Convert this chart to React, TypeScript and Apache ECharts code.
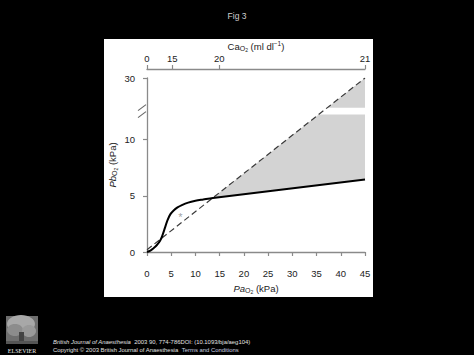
import React, { useEffect, useRef } from "react";
import * as echarts from "echarts";

// ---- data (display units of the broken y axis) ----
const paO2Solid = [0, 0.7, 1.3, 2.0, 2.7, 3.2, 3.7, 4.2, 4.8, 5.5, 6.3, 7.2, 8.5, 10, 11.6, 13.6, 45];
const pbO2Solid = [0, 0.12, 0.32, 0.6, 1.0, 1.5, 2.15, 2.8, 3.35, 3.7, 3.97, 4.18, 4.4, 4.56, 4.68, 4.82, 6.45];
const paO2Dashed = [0, 45];
const pbO2Dashed = [0.2, 15.5];
const crossPaO2 = 13.6;
const breakBand = [12.25, 12.85];
const asteriskPoint = [6.9, 3.1];

const xTickLabels = ["0", "5", "10", "15", "20", "25", "30", "35", "40", "45"];
const yTickValues = [0, 5, 10, 15.5];
const yTickLabels = ["0", "5", "10", "30"];
const caTickValues = [0, 5.2, 14.9, 45];
const caTickLabels = ["0", "15", "20", "21"];

const FONT = "Liberation Sans, Arial, Helvetica, sans-serif";
const AXIS_GREY = "#8a8a8a";
const TEXT = "#222";

function dashedAt(x: number) {
  const s = (pbO2Dashed[1] - pbO2Dashed[0]) / (paO2Dashed[1] - paO2Dashed[0]);
  return pbO2Dashed[0] + s * (x - paO2Dashed[0]);
}
function dashedX(y: number) {
  const s = (pbO2Dashed[1] - pbO2Dashed[0]) / (paO2Dashed[1] - paO2Dashed[0]);
  return paO2Dashed[0] + (y - pbO2Dashed[0]) / s;
}

const nameRich = {
  i: { fontSize: 9.5, fontStyle: "italic", fontFamily: FONT, color: TEXT, lineHeight: 12, verticalAlign: "middle" },
  n: { fontSize: 9.5, fontFamily: FONT, color: TEXT, lineHeight: 12, verticalAlign: "middle" },
  s: { fontSize: 7, fontFamily: FONT, color: TEXT, lineHeight: 7, verticalAlign: "bottom" },
  ss: { fontSize: 5, fontFamily: FONT, color: TEXT, lineHeight: 4, verticalAlign: "bottom" },
  sup: { fontSize: 6.5, fontFamily: FONT, color: TEXT, lineHeight: 7, verticalAlign: "top" },
};

export default function App() {
  const ref = useRef<HTMLDivElement>(null);
  useEffect(() => {
    if (!ref.current) return;
    const chart = echarts.init(ref.current, null, { renderer: "svg" });
    const xMax = paO2Dashed[1];
    const lastIdx = paO2Solid.length - 1;

    const option: any = {
      animation: false,
      backgroundColor: "#000",
      title: {
        text: "Fig 3",
        left: "center",
        top: 6,
        textStyle: { color: "#d0d0d0", fontSize: 8.5, fontWeight: "normal", fontFamily: FONT },
      },
      graphic: [
        { type: "rect", z: -10, shape: { x: 104, y: 39, width: 269, height: 258 }, style: { fill: "#fff" } },
        // Elsevier logo (approximate)
        { type: "rect", shape: { x: 6, y: 316, width: 32, height: 28 }, style: { fill: "#6e6e6e" } },
        { type: "ellipse", shape: { cx: 21, cy: 324, rx: 14, ry: 9 }, style: { fill: "#a8a8a8" } },
        { type: "ellipse", shape: { cx: 15, cy: 330, rx: 8, ry: 6 }, style: { fill: "#8c8c8c" } },
        { type: "ellipse", shape: { cx: 29, cy: 331, rx: 7, ry: 6 }, style: { fill: "#9a9a9a" } },
        { type: "rect", shape: { x: 19, y: 332, width: 5, height: 12 }, style: { fill: "#444" } },
        { type: "rect", shape: { x: 6, y: 341, width: 32, height: 3 }, style: { fill: "#555" } },
        {
          type: "text",
          x: 22,
          y: 351,
          style: { text: "ELSEVIER", fill: "#e8e8e8", font: "6px 'Liberation Serif', serif", align: "center", verticalAlign: "middle" },
        },
        {
          type: "text",
          x: 53,
          y: 341.5,
          style: {
            text: "{i|British Journal of Anaesthesia} {n|2003 90, 774-786DOI: (10.1093/bja/aeg104)}",
            rich: {
              i: { fontSize: 5.9, fontStyle: "italic", fontFamily: FONT, fill: "#e0e0e0" },
              n: { fontSize: 5.9, fontFamily: FONT, fill: "#e0e0e0" },
            },
            verticalAlign: "middle",
          },
        },
        {
          type: "text",
          x: 53,
          y: 349.5,
          style: {
            text: "{n|Copyright © 2003 British Journal of Anaesthesia} {u|Terms and Conditions}",
            rich: {
              n: { fontSize: 5.9, fontFamily: FONT, fill: "#e0e0e0" },
              u: { fontSize: 5.9, fontFamily: FONT, fill: "#c8d0e0", textDecoration: "underline" },
            },
            verticalAlign: "middle",
          },
        },
      ],
      grid: { left: 147, right: 109, top: 78, bottom: 103, outerBoundsMode: "none", containLabel: false },
      xAxis: [
        {
          type: "value",
          position: "bottom",
          min: 0,
          max: 45,
          interval: 5,
          offset: 10,
          name: "{i|Pa}{s|O}{ss|2}{n| (kPa)}",
          nameLocation: "middle",
          nameGap: 20,
          nameTextStyle: { rich: nameRich },
          splitLine: { show: false },
          axisLine: { show: true, lineStyle: { color: AXIS_GREY, width: 1.3 } },
          axisTick: { show: true, length: 4, lineStyle: { color: AXIS_GREY, width: 1.2 } },
          axisLabel: {
            color: TEXT,
            fontSize: 9.5,
            fontFamily: FONT,
            margin: 6,
            formatter: (v: number) => xTickLabels[Math.round(v / 5)] ?? "",
          },
        },
        {
          type: "value",
          position: "top",
          min: 0,
          max: 45,
          offset: 9,
          name: "{n|Ca}{s|O}{ss|2}{n| (ml dl}{sup|−1}{n|)}",
          nameLocation: "middle",
          nameGap: 17,
          nameTextStyle: { rich: nameRich },
          splitLine: { show: false },
          axisLine: { show: true, lineStyle: { color: AXIS_GREY, width: 1.3 } },
          axisTick: { show: true, length: 4, customValues: caTickValues, lineStyle: { color: AXIS_GREY, width: 1.2 } },
          axisLabel: {
            color: TEXT,
            fontSize: 9.5,
            fontFamily: FONT,
            margin: 6,
            customValues: caTickValues,
            formatter: (v: number) => {
              const i = caTickValues.indexOf(v);
              return i >= 0 ? caTickLabels[i] : "";
            },
          },
        },
      ],
      yAxis: {
        type: "value",
        min: 0,
        max: yTickValues[yTickValues.length - 1],
        offset: 5,
        name: "{i|Pb}{s|O}{ss|2}{n| (kPa)}",
        nameLocation: "middle",
        nameRotate: 90,
        nameGap: 24,
        nameTextStyle: { rich: nameRich },
        splitLine: { show: false },
        axisLine: { show: true, lineStyle: { color: AXIS_GREY, width: 1.3 } },
        axisTick: { show: true, length: 4, customValues: yTickValues, lineStyle: { color: AXIS_GREY, width: 1.2 } },
        axisLabel: {
          color: TEXT,
          fontSize: 9.5,
          fontFamily: FONT,
          margin: 7,
          customValues: yTickValues,
          formatter: (v: number) => {
            const i = yTickValues.indexOf(v);
            return i >= 0 ? yTickLabels[i] : "";
          },
        },
      },
      series: [
        {
          type: "custom",
          z: 1,
          clip: false,
          silent: true,
          data: [[0, 0]],
          renderItem: (_params: any, api: any) => {
            const top = [api.coord([crossPaO2, dashedAt(crossPaO2)]), api.coord([xMax, dashedAt(xMax)])];
            const bottom: number[][] = [];
            for (let i = lastIdx; i >= 0; i--) {
              if (paO2Solid[i] >= crossPaO2) bottom.push(api.coord([paO2Solid[i], pbO2Solid[i]]));
            }
            const g0 = breakBand[0];
            const g1 = breakBand[1];
            const gap = [
              api.coord([dashedX(g0) - 0.3, g0]),
              api.coord([xMax + 0.2, g0]),
              api.coord([xMax + 0.2, g1]),
              api.coord([dashedX(g1) - 0.3, g1]),
            ];
            const mid = (g0 + g1) / 2;
            const axisPt = api.coord([0, mid]);
            const ax = axisPt[0] - 5;
            const ay = axisPt[1];
            return {
              type: "group",
              children: [
                { type: "polygon", shape: { points: top.concat(bottom) }, style: { fill: "#d3d3d3" } },
                { type: "polygon", shape: { points: gap }, style: { fill: "#fff" } },
                { type: "rect", shape: { x: ax - 2, y: ay - 2.5, width: 4, height: 5 }, style: { fill: "#fff" } },
                { type: "line", shape: { x1: ax - 4, y1: ay - 0.5, x2: ax + 4, y2: ay - 6.5 }, style: { stroke: "#666", lineWidth: 1.1 } },
                { type: "line", shape: { x1: ax - 4, y1: ay + 6.5, x2: ax + 4, y2: ay + 0.5 }, style: { stroke: "#666", lineWidth: 1.1 } },
              ],
            };
          },
        },
        {
          type: "line",
          z: 3,
          data: paO2Dashed.map((x, i) => [x, pbO2Dashed[i]]),
          symbol: "none",
          lineStyle: { color: "#3a3a3a", width: 1.2, type: [6, 3.5] },
        },
        {
          type: "line",
          z: 4,
          data: paO2Solid.map((x, i) => [x, pbO2Solid[i]]),
          symbol: "none",
          smooth: 0.35,
          lineStyle: { color: "#000", width: 2 },
        },
        {
          type: "scatter",
          z: 5,
          data: [asteriskPoint],
          symbolSize: 1,
          itemStyle: { color: "rgba(0,0,0,0)" },
          label: {
            show: true,
            position: "inside",
            formatter: "*",
            color: "#888",
            fontSize: 11,
            fontFamily: FONT,
          },
        },
      ],
    };
    chart.setOption(option);
    return () => chart.dispose();
  }, []);
  return (
    <div
      ref={ref}
      style={{ position: "fixed", left: 0, top: 0, width: 474, height: 355 }}
    />
  );
}
